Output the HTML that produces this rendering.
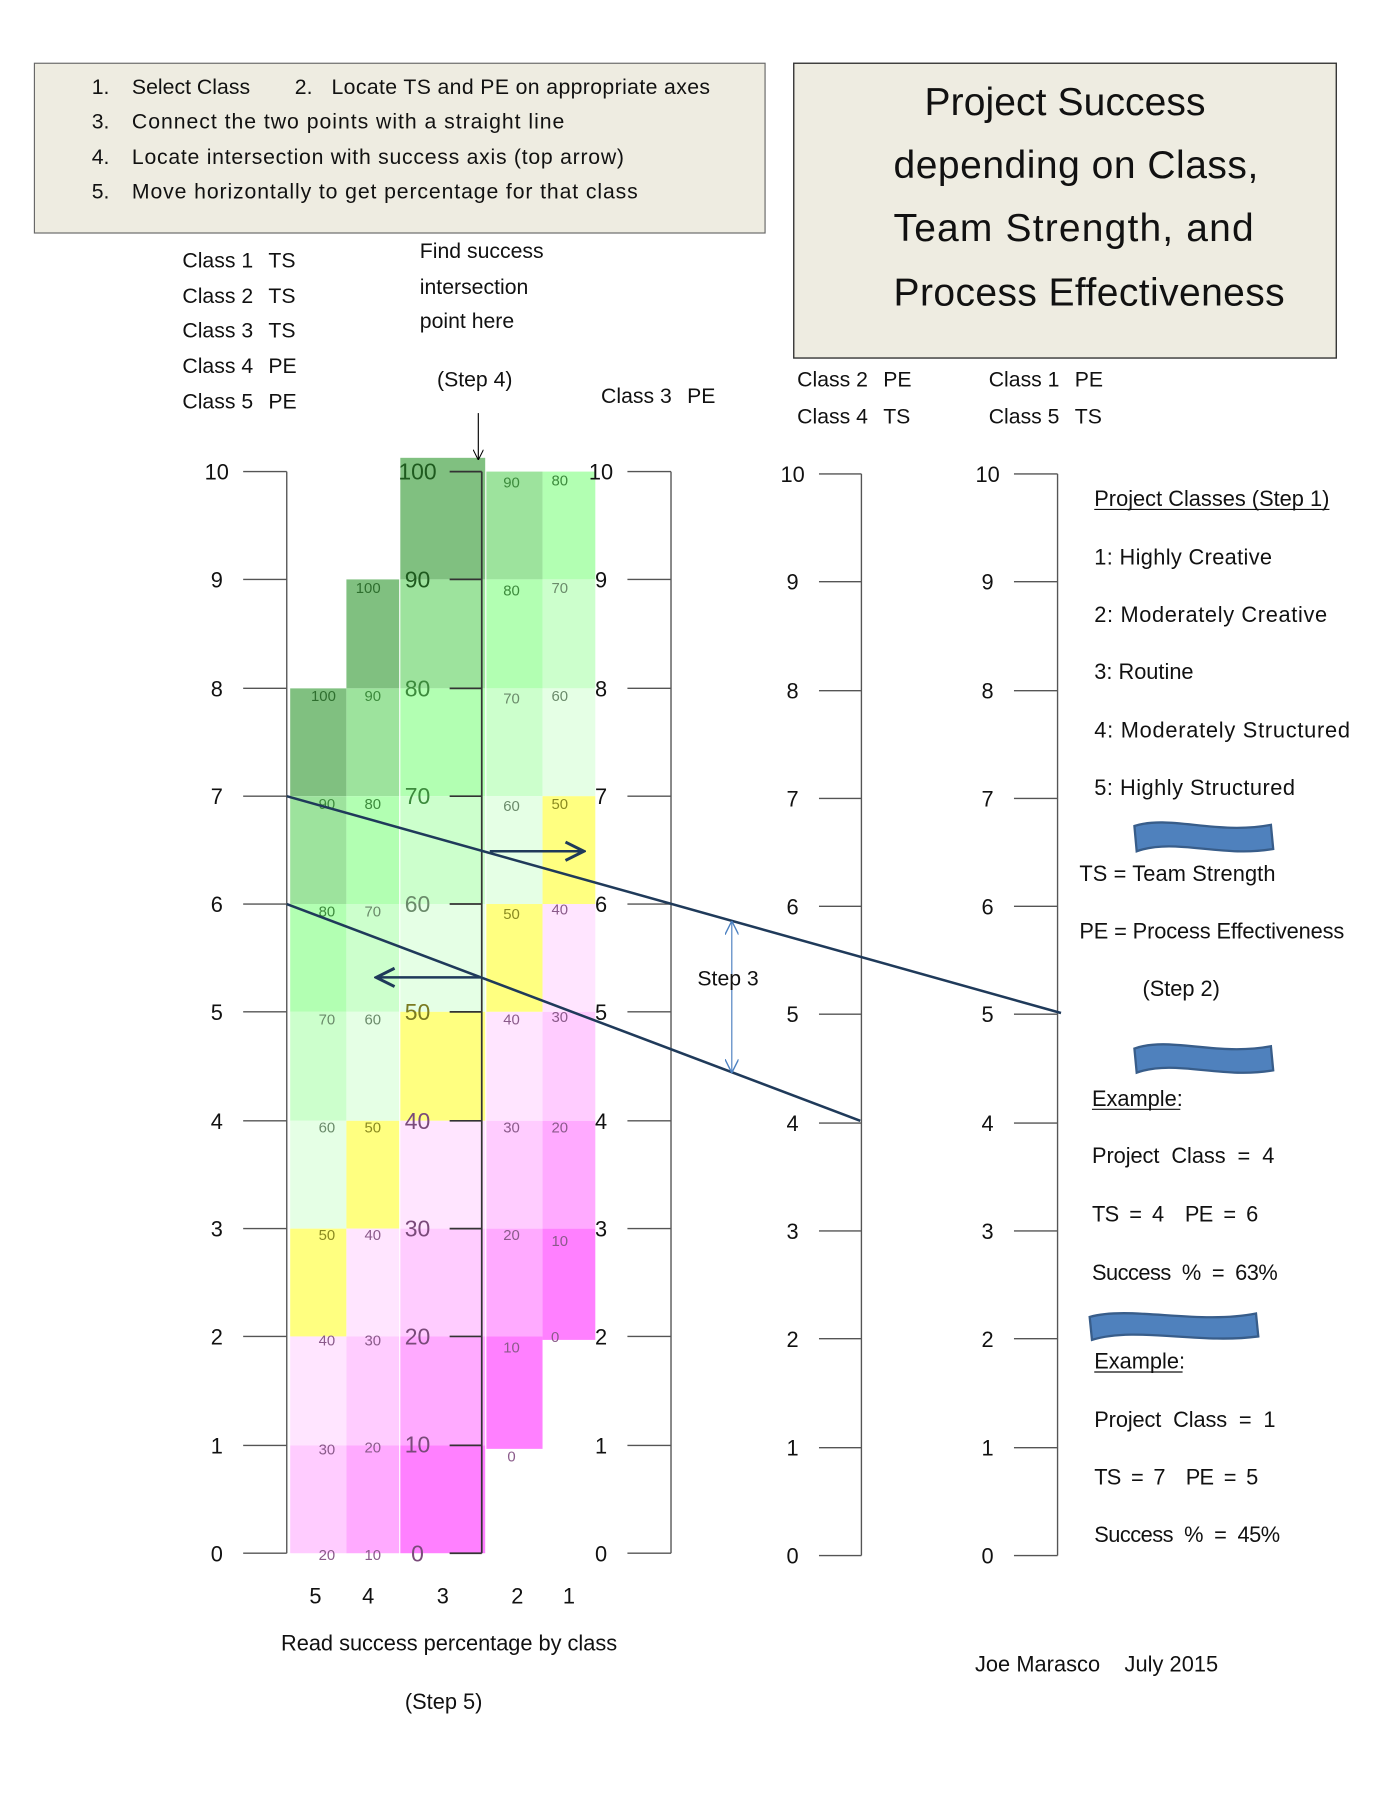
<!DOCTYPE html>
<html><head><meta charset="utf-8"><style>
html,body{margin:0;padding:0;background:#fff;}
svg{display:block;}
text{font-family:"Liberation Sans",sans-serif;}
</style></head><body>
<svg width="1391" height="1800" viewBox="0 0 1212.7 1569" xmlns="http://www.w3.org/2000/svg">
<defs>
<marker id="ah" viewBox="0 0 10 10" refX="9" refY="5" markerWidth="9" markerHeight="9" orient="auto" markerUnits="userSpaceOnUse"><path d="M0,0 L10,5 L0,10" fill="none" stroke="#000" stroke-width="1"/></marker>
<marker id="ah2" viewBox="0 0 10 10" refX="9" refY="5" markerWidth="20" markerHeight="20" orient="auto" markerUnits="userSpaceOnUse"><path d="M1,1 L9,5 L1,9" fill="none" stroke="#1f3a5a" stroke-width="1.3"/></marker>
<marker id="ah3" viewBox="0 0 10 10" refX="9" refY="5" markerWidth="12" markerHeight="12" orient="auto-start-reverse" markerUnits="userSpaceOnUse"><path d="M0,0 L10,5 L0,10" fill="none" stroke="#4a7fc0" stroke-width="1"/></marker>
</defs>
<rect width="1212.7" height="1569" fill="#fff"/>

<!-- instruction box -->
<rect x="30" y="55" width="637" height="148" fill="#eeece1" stroke="#666" stroke-width="1"/>
<g font-size="18.5" fill="#111">
<text x="80" y="82">1.</text><text x="115" y="82" textLength="103">Select Class</text>
<text x="257" y="82">2.</text><text x="289" y="82" textLength="330">Locate TS and PE on appropriate axes</text>
<text x="80" y="112">3.</text><text x="115" y="112" textLength="377">Connect the two points with a straight line</text>
<text x="80" y="143">4.</text><text x="115" y="143" textLength="429">Locate intersection with success axis (top arrow)</text>
<text x="80" y="173">5.</text><text x="115" y="173" textLength="441">Move horizontally to get percentage for that class</text>
</g>

<!-- title box -->
<rect x="692" y="55" width="473" height="257" fill="#eeece1" stroke="#333" stroke-width="1.2"/>
<g font-size="34" fill="#111">
<text x="806" y="100" textLength="245">Project Success</text>
<text x="779" y="155" textLength="318">depending on Class,</text>
<text x="779" y="210" textLength="314">Team Strength, and</text>
<text x="779" y="266" textLength="341">Process Effectiveness</text>
</g>

<!-- axis labels top -->
<g font-size="18.5" fill="#111">
<text x="159" y="233">Class 1</text><text x="234" y="233">TS</text>
<text x="159" y="264">Class 2</text><text x="234" y="264">TS</text>
<text x="159" y="294">Class 3</text><text x="234" y="294">TS</text>
<text x="159" y="325">Class 4</text><text x="234" y="325">PE</text>
<text x="159" y="356">Class 5</text><text x="234" y="356">PE</text>
<text x="366" y="225">Find success</text>
<text x="366" y="256">intersection</text>
<text x="366" y="286">point here</text>
<text x="381" y="337">(Step 4)</text>
<text x="524" y="351">Class 3</text><text x="599" y="351">PE</text>
<text x="695" y="337">Class 2</text><text x="770" y="337">PE</text>
<text x="695" y="369">Class 4</text><text x="770" y="369">TS</text>
<text x="862" y="337">Class 1</text><text x="937" y="337">PE</text>
<text x="862" y="369">Class 5</text><text x="937" y="369">TS</text>
</g>

<!-- colored cells -->
<g>
<rect x="253" y="600" width="49" height="94" fill="#80c080"/>
<rect x="253" y="694" width="49" height="94" fill="#9de39d"/>
<rect x="253" y="788" width="49" height="94" fill="#b2ffb2"/>
<rect x="253" y="882" width="49" height="95" fill="#ccffcc"/>
<rect x="253" y="977" width="49" height="94" fill="#e5ffe5"/>
<rect x="253" y="1071" width="49" height="94" fill="#ffff80"/>
<rect x="253" y="1165" width="49" height="95" fill="#ffe5ff"/>
<rect x="253" y="1260" width="49" height="94" fill="#ffccff"/>
<rect x="302" y="505" width="46" height="95" fill="#80c080"/>
<rect x="302" y="600" width="46" height="94" fill="#9de39d"/>
<rect x="302" y="694" width="46" height="94" fill="#b2ffb2"/>
<rect x="302" y="788" width="46" height="94" fill="#ccffcc"/>
<rect x="302" y="882" width="46" height="95" fill="#e5ffe5"/>
<rect x="302" y="977" width="46" height="94" fill="#ffff80"/>
<rect x="302" y="1071" width="46" height="94" fill="#ffe5ff"/>
<rect x="302" y="1165" width="46" height="95" fill="#ffccff"/>
<rect x="302" y="1260" width="46" height="94" fill="#ffaaff"/>
<rect x="349" y="399" width="74" height="106" fill="#80c080"/>
<rect x="349" y="505" width="74" height="95" fill="#9de39d"/>
<rect x="349" y="600" width="74" height="94" fill="#b2ffb2"/>
<rect x="349" y="694" width="74" height="94" fill="#ccffcc"/>
<rect x="349" y="788" width="74" height="94" fill="#e5ffe5"/>
<rect x="349" y="882" width="74" height="95" fill="#ffff80"/>
<rect x="349" y="977" width="74" height="94" fill="#ffe5ff"/>
<rect x="349" y="1071" width="74" height="94" fill="#ffccff"/>
<rect x="349" y="1165" width="74" height="95" fill="#ffaaff"/>
<rect x="349" y="1260" width="74" height="94" fill="#ff80ff"/>
<rect x="424" y="411" width="49" height="94" fill="#9de39d"/>
<rect x="424" y="505" width="49" height="95" fill="#b2ffb2"/>
<rect x="424" y="600" width="49" height="94" fill="#ccffcc"/>
<rect x="424" y="694" width="49" height="94" fill="#e5ffe5"/>
<rect x="424" y="788" width="49" height="94" fill="#ffff80"/>
<rect x="424" y="882" width="49" height="95" fill="#ffe5ff"/>
<rect x="424" y="977" width="49" height="94" fill="#ffccff"/>
<rect x="424" y="1071" width="49" height="94" fill="#ffaaff"/>
<rect x="424" y="1165" width="49" height="98" fill="#ff80ff"/>
<rect x="473" y="411" width="46" height="94" fill="#b2ffb2"/>
<rect x="473" y="505" width="46" height="95" fill="#ccffcc"/>
<rect x="473" y="600" width="46" height="94" fill="#e5ffe5"/>
<rect x="473" y="694" width="46" height="94" fill="#ffff80"/>
<rect x="473" y="788" width="46" height="94" fill="#ffe5ff"/>
<rect x="473" y="882" width="46" height="95" fill="#ffccff"/>
<rect x="473" y="977" width="46" height="94" fill="#ffaaff"/>
<rect x="473" y="1071" width="46" height="97" fill="#ff80ff"/>
</g>

<!-- cell labels small -->
<g font-size="13" text-anchor="middle">
<g fill="#2e6e2e"><text x="282" y="611">100</text><text x="321" y="517">100</text></g>
<g fill="#3c8a3c"><text x="285" y="705">90</text><text x="325" y="611">90</text><text x="446" y="425">90</text>
<text x="285" y="799">80</text><text x="325" y="705">80</text><text x="446" y="519">80</text><text x="488" y="423">80</text></g>
<g fill="#6a8a6a"><text x="285" y="893">70</text><text x="325" y="799">70</text><text x="446" y="613">70</text><text x="488" y="517">70</text>
<text x="285" y="987">60</text><text x="325" y="893">60</text><text x="446" y="707">60</text><text x="488" y="611">60</text></g>
<g fill="#8a8a20"><text x="285" y="1081">50</text><text x="325" y="987">50</text><text x="446" y="801">50</text><text x="488" y="705">50</text></g>
<g fill="#8a5a8a"><text x="285" y="1173">40</text><text x="325" y="1081">40</text><text x="446" y="893">40</text><text x="488" y="797">40</text>
<text x="285" y="1268">30</text><text x="325" y="1173">30</text><text x="446" y="987">30</text><text x="488" y="891">30</text>
<text x="285" y="1360">20</text><text x="325" y="1266">20</text><text x="446" y="1081">20</text><text x="488" y="987">20</text>
<text x="325" y="1360">10</text><text x="446" y="1179">10</text><text x="488" y="1086">10</text><text x="484" y="1170">0</text><text x="446" y="1274">0</text></g>
</g>
<g font-size="20" text-anchor="middle">
<g fill="#1e5a1e"><text x="364" y="418">100</text><text x="364" y="512">90</text></g>
<g fill="#3c8a3c"><text x="364" y="607">80</text><text x="364" y="701">70</text></g>
<g fill="#6a8a6a"><text x="364" y="795">60</text></g>
<g fill="#7a7a20"><text x="364" y="889">50</text></g>
<g fill="#7a4a7a"><text x="364" y="984">40</text><text x="364" y="1078">30</text><text x="364" y="1172">20</text><text x="364" y="1266">10</text><text x="364" y="1361">0</text></g>
</g>

<!-- axes -->
<g stroke="#555" stroke-width="1.2" fill="none">
<path d="M250,411 V1354"/>
<path d="M212,411H250M212,505H250M212,600H250M212,694H250M212,788H250M212,882H250M212,977H250M212,1071H250M212,1165H250M212,1260H250M212,1354H250"/>
<path d="M585,411 V1354"/>
<path d="M547,411H585M547,505H585M547,600H585M547,694H585M547,788H585M547,882H585M547,977H585M547,1071H585M547,1165H585M547,1260H585M547,1354H585"/>
<path d="M751,413 V1356"/>
<path d="M714,413H751M714,507H751M714,602H751M714,696H751M714,790H751M714,884H751M714,979H751M714,1073H751M714,1167H751M714,1262H751M714,1356H751"/>
<path d="M922,413 V1356"/>
<path d="M884,413H922M884,507H922M884,602H922M884,696H922M884,790H922M884,884H922M884,979H922M884,1073H922M884,1167H922M884,1262H922M884,1356H922"/>
</g>
<g stroke="#333" stroke-width="1.5" fill="none">
<path d="M420,411 V1354"/>
<path d="M392,411H420M392,505H420M392,600H420M392,694H420M392,788H420M392,882H420M392,977H420M392,1071H420M392,1165H420M392,1260H420M392,1354H420"/>
</g>

<g font-size="19" fill="#111" text-anchor="middle">
<text x="189" y="418">10</text><text x="189" y="512">9</text><text x="189" y="607">8</text><text x="189" y="701">7</text><text x="189" y="795">6</text><text x="189" y="889">5</text><text x="189" y="984">4</text><text x="189" y="1078">3</text><text x="189" y="1172">2</text><text x="189" y="1267">1</text><text x="189" y="1361">0</text>
<text x="524" y="418">10</text><text x="524" y="512">9</text><text x="524" y="607">8</text><text x="524" y="701">7</text><text x="524" y="795">6</text><text x="524" y="889">5</text><text x="524" y="984">4</text><text x="524" y="1078">3</text><text x="524" y="1172">2</text><text x="524" y="1267">1</text><text x="524" y="1361">0</text>
<text x="691" y="420">10</text><text x="691" y="514">9</text><text x="691" y="609">8</text><text x="691" y="703">7</text><text x="691" y="797">6</text><text x="691" y="891">5</text><text x="691" y="986">4</text><text x="691" y="1080">3</text><text x="691" y="1174">2</text><text x="691" y="1269">1</text><text x="691" y="1363">0</text>
<text x="861" y="420">10</text><text x="861" y="514">9</text><text x="861" y="609">8</text><text x="861" y="703">7</text><text x="861" y="797">6</text><text x="861" y="891">5</text><text x="861" y="986">4</text><text x="861" y="1080">3</text><text x="861" y="1174">2</text><text x="861" y="1269">1</text><text x="861" y="1363">0</text>
</g>

<line x1="417" y1="360" x2="417" y2="400" stroke="#000" stroke-width="1" marker-end="url(#ah)"/>

<g stroke="#1f3a5a" stroke-width="2.2" fill="none">
<line x1="250" y1="694" x2="925" y2="883"/>
<line x1="250" y1="788" x2="750" y2="977"/>
<line x1="427" y1="742" x2="509" y2="742" marker-end="url(#ah2)"/>
<line x1="419" y1="852" x2="328" y2="852" marker-end="url(#ah2)"/>
</g>
<line x1="638" y1="804" x2="638" y2="934" stroke="#4a7fc0" stroke-width="1" marker-end="url(#ah3)" marker-start="url(#ah3)"/>
<text x="608" y="859" font-size="18.5" fill="#111">Step 3</text>

<g font-size="19" fill="#111">
<text x="954" y="441" textLength="205">Project Classes (Step 1)</text>
<line x1="954" y1="444" x2="1159" y2="444" stroke="#111" stroke-width="1"/>
<text x="954" y="492" textLength="155">1: Highly Creative</text>
<text x="954" y="542" textLength="203">2: Moderately Creative</text>
<text x="954" y="592">3: Routine</text>
<text x="954" y="643" textLength="223">4: Moderately Structured</text>
<text x="954" y="693" textLength="175">5: Highly Structured</text>
<text x="941" y="768" textLength="171">TS = Team Strength</text>
<text x="941" y="818" textLength="231">PE = Process Effectiveness</text>
<text x="996" y="868">(Step 2)</text>
<text x="952" y="964">Example:</text>
<line x1="952" y1="967" x2="1029" y2="967" stroke="#111" stroke-width="1"/>
<text x="952" y="1014" xml:space="preserve" textLength="159">Project  Class  =  4</text>
<text x="952" y="1065" xml:space="preserve" textLength="145">TS  =  4    PE  =  6</text>
<text x="952" y="1116" xml:space="preserve" textLength="162">Success  %  =  63%</text>
<text x="954" y="1193">Example:</text>
<line x1="954" y1="1196" x2="1031" y2="1196" stroke="#111" stroke-width="1"/>
<text x="954" y="1244" xml:space="preserve" textLength="158">Project  Class  =  1</text>
<text x="954" y="1294" xml:space="preserve" textLength="143">TS  =  7    PE  =  5</text>
<text x="954" y="1344" xml:space="preserve" textLength="162">Success  %  =  45%</text>
</g>
<g fill="#4f81bd" stroke="#385d8a" stroke-width="2">
<path d="M989,720 C1020,710 1060,728 1108,719 L1110,740 C1065,748 1025,730 991,742 Z"/>
<path d="M989,914 C1020,903 1060,921 1108,912 L1110,933 C1065,941 1025,923 991,935 Z"/>
<path d="M950,1148 C985,1138 1045,1155 1095,1145 L1097,1165 C1045,1172 990,1156 952,1168 Z"/>
</g>

<g font-size="19" fill="#111" text-anchor="middle">
<text x="275" y="1398">5</text><text x="321" y="1398">4</text><text x="386" y="1398">3</text><text x="451" y="1398">2</text><text x="496" y="1398">1</text>
</g>
<g font-size="19" fill="#111">
<text x="245" y="1439" textLength="293">Read success percentage by class</text>
<text x="353" y="1490">(Step 5)</text>
<text x="850" y="1457" xml:space="preserve" textLength="212">Joe Marasco    July 2015</text>
</g>
</svg>
</body></html>
